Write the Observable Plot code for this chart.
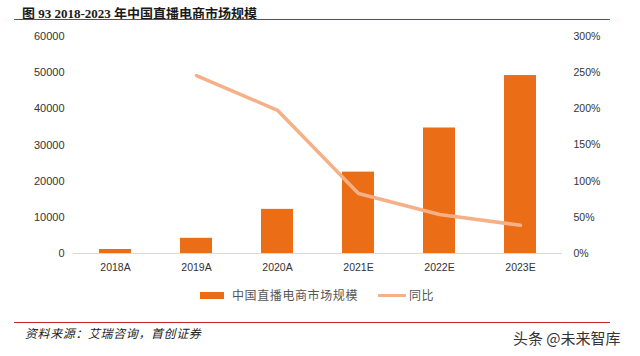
<!DOCTYPE html>
<html>
<head>
<meta charset="utf-8">
<script src="https://cdn.jsdelivr.net/npm/d3@7"></script>
<script src="https://cdn.jsdelivr.net/npm/@observablehq/plot@0.6"></script>
<style>
  html, body { margin: 0; padding: 0; background: #fff; }
  #wrap { position: relative; width: 640px; height: 356px; overflow: hidden; background: #fff; }
  #chart { position: absolute; left: 0; top: 0; }
  .title { position: absolute; left: 22px; top: 3px; font-size: 13px; font-weight: bold; color: #1a1a1a;
           font-family: "Liberation Serif", "Noto Sans CJK SC", serif; white-space: nowrap; }
  .rule { position: absolute; left: 14px; width: 596px; height: 1.5px; background: #c0232c; }
  .legend { position: absolute; top: 287px; left: 0; width: 640px; height: 16px;
            font-family: "Noto Sans CJK SC", sans-serif; font-size: 12px; color: #555; }
  .legend .sw { position: absolute; }
  .legend .lb { position: absolute; top: 0; line-height: 16px; letter-spacing: 0.6px; white-space: nowrap; }
  .source { position: absolute; left: 25px; top: 324px; font-size: 12px; font-style: italic; color: #222;
            font-family: "Noto Sans CJK SC", serif; letter-spacing: 0.6px; white-space: nowrap; }
  .mark { position: absolute; left: 513px; top: 327px; font-size: 15px; color: #333;
          font-family: "Noto Sans CJK SC", sans-serif; white-space: nowrap; }
</style>
</head>
<body>
<div id="wrap">
  <div id="chart"></div>
  <div class="title">图 93 2018-2023 年中国直播电商市场规模</div>
  <div class="rule" style="top:18.5px"></div>
  <div class="legend" id="legend"></div>
  <div class="rule" style="top:321.5px"></div>
  <div class="source">资料来源：艾瑞咨询，首创证券</div>
  <div class="mark">头条 @未来智库</div>
</div>
<script>
// ---- data ----
const categories = ["2018A", "2019A", "2020A", "2021E", "2022E", "2023E"];
const marketSize = [1100, 4200, 12200, 22500, 34700, 49200];   // 中国直播电商市场规模
const yoyPct = [null, 246, 198, 83, 54, 39];                     // 同比 (%)
const leftTicks = [0, 10000, 20000, 30000, 40000, 50000, 60000];
const rightTicks = [0, 50, 100, 150, 200, 250, 300];
const seriesNames = ["中国直播电商市场规模", "同比"];

// ---- colours ----
const barColor = "#EB6D15";
const lineColor = "#F5B088";

// right axis (0–300%) mapped onto left axis domain (0–60000)
const leftMax = 60000, rightMax = 300;
const toLeft = p => p * leftMax / rightMax;

const bars = categories.map((c, i) => ({cat: c, value: marketSize[i]}));
const yoy = categories.map((c, i) => ({cat: c, pct: yoyPct[i]})).filter(d => d.pct != null);

const chart = Plot.plot({
  width: 640,
  height: 280,
  marginTop: 36,
  marginBottom: 27,
  marginLeft: 73,
  marginRight: 78,
  style: {fontFamily: "'Liberation Sans', Arial, sans-serif", fontSize: "11px", color: "#333", background: "transparent"},
  x: {domain: categories, paddingInner: 0.6, paddingOuter: 0.3, label: null},
  y: {domain: [0, leftMax], label: null},
  marks: [
    Plot.axisX({tickSize: 0, tickPadding: 10, fontSize: 10.5, fill: "#333", label: null}),
    Plot.axisY({ticks: leftTicks, tickSize: 0, tickPadding: 9, fontSize: 11, fill: "#333", label: null,
                tickFormat: d => String(d)}),
    Plot.axisY({anchor: "right", ticks: rightTicks.map(toLeft), tickSize: 0, tickPadding: 11, fontSize: 10.5, fill: "#333",
                tickFormat: d => Math.round(d * rightMax / leftMax) + "%", label: null}),
    Plot.barY(bars, {x: "cat", y: "value", fill: barColor}),
    Plot.ruleY([0], {stroke: "#d9d9d9", strokeWidth: 1}),
    Plot.line(yoy, {x: "cat", y: d => toLeft(d.pct), stroke: lineColor, strokeWidth: 3.5, strokeLinejoin: "round", strokeLinecap: "round"})
  ]
});
document.getElementById("chart").appendChild(chart);

// ---- legend ----
const legend = document.getElementById("legend");
legend.innerHTML =
  `<div class="sw" style="left:200px;top:5px;width:24px;height:7px;background:${barColor}"></div>` +
  `<div class="lb" style="left:232px">${seriesNames[0]}</div>` +
  `<div class="sw" style="left:378px;top:7px;width:28px;height:3px;background:${lineColor}"></div>` +
  `<div class="lb" style="left:409px">${seriesNames[1]}</div>`;
</script>
</body>
</html>
